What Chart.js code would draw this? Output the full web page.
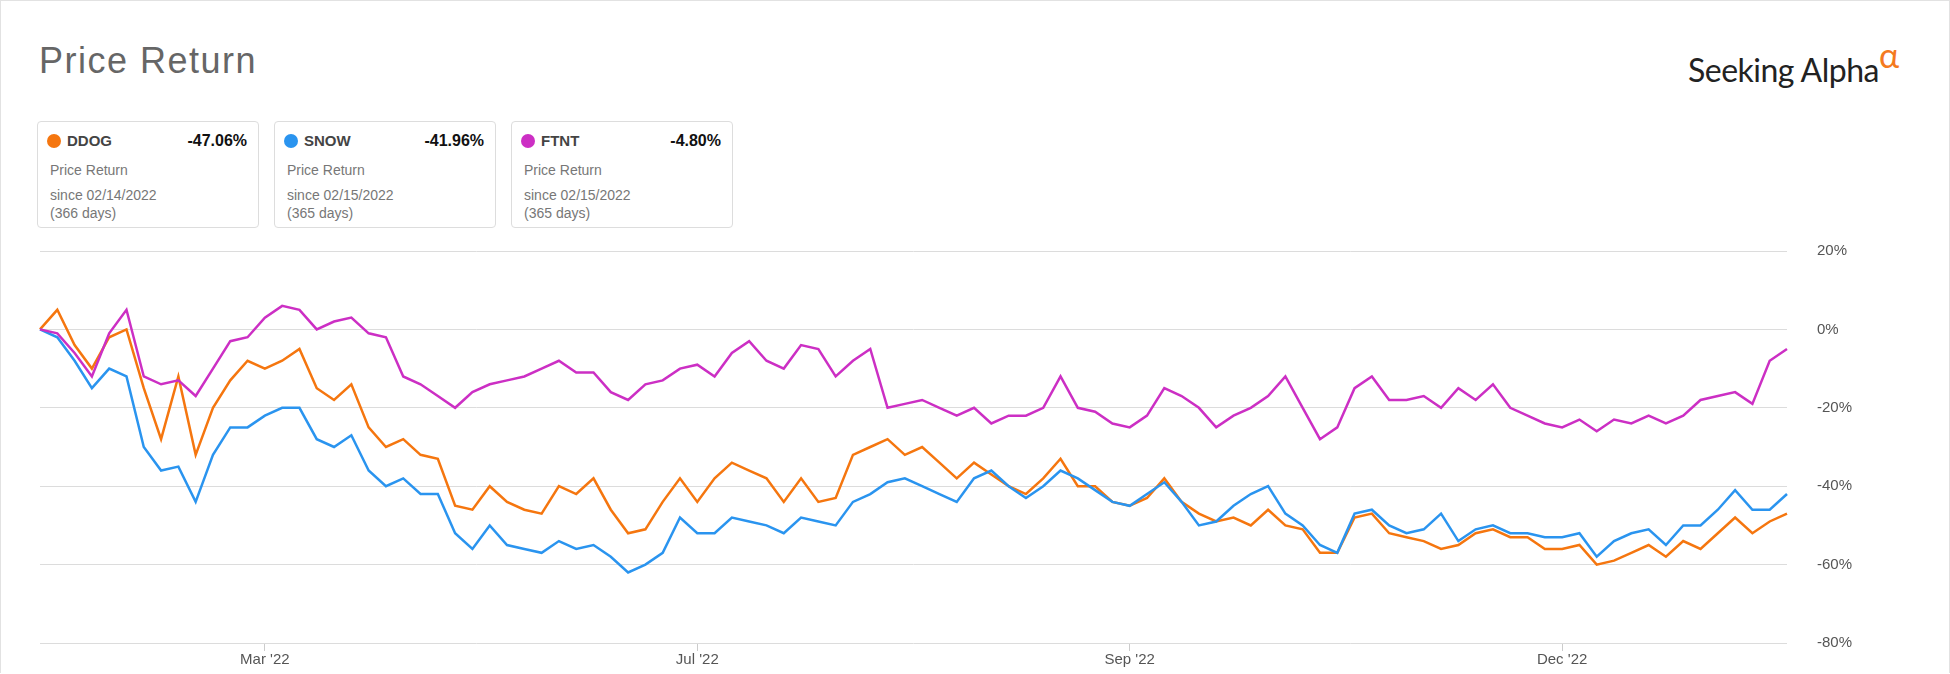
<!DOCTYPE html>
<html><head><meta charset="utf-8">
<script src="https://cdn.jsdelivr.net/npm/chart.js@4"></script>
<style>
body{margin:0;width:1950px;height:674px;background:#fff;font-family:"Liberation Sans",Arial,sans-serif;overflow:hidden;position:relative}
#frame{position:absolute;left:0;top:0;width:1948px;height:672px;border:1px solid #e2e2e2;border-bottom:none}
#title{position:absolute;left:39px;top:40px;font-size:36px;color:#666;letter-spacing:1.5px}
#logo{position:absolute;left:1688px;top:36px;font-family:"Lato","Open Sans",sans-serif;font-size:32px;color:#222;letter-spacing:-0.5px}
#logo sup{color:#f47a20;font-size:34px;position:relative;top:-2px;margin-left:0px}
.box{position:absolute;top:121px;width:222px;height:107px;border:1px solid #ddd;border-radius:4px;box-sizing:border-box}
.dot{position:absolute;left:9px;top:12px;width:14px;height:14px;border-radius:50%}
.tk{position:absolute;left:29px;top:10px;font-size:15px;font-weight:bold;color:#444}
.val{position:absolute;right:11px;top:10px;font-size:16px;font-weight:bold;color:#111}
.l1{position:absolute;left:12px;top:40px;font-size:14px;color:#777}
.l2{position:absolute;left:12px;top:64px;font-size:14px;color:#777;line-height:18px}
#c{position:absolute;left:0;top:0}
</style></head><body>
<div id="frame"></div>
<div id="title">Price Return</div>
<div id="logo">Seeking Alpha<sup>α</sup></div>
<div id="boxes"></div>
<canvas id="c" width="1950" height="682"></canvas>
<script>
const tickers=["DDOG","SNOW","FTNT"];
const returns=["-47.06%","-41.96%","-4.80%"];
const sinceDates=["02/14/2022","02/15/2022","02/15/2022"];
const dayCounts=["366","365","365"];
const colors=["#f5760f","#2a94ef","#cc2fc4"];
const ddog=[0,5,-4,-10,-2,0,-15,-28,-12,-32,-20,-13,-8,-10,-8,-5,-15,-18,-14,-25,-30,-28,-32,-33,-45,-46,-40,-44,-46,-47,-40,-42,-38,-46,-52,-51,-44,-38,-44,-38,-34,-36,-38,-44,-38,-44,-43,-32,-30,-28,-32,-30,-34,-38,-34,-37,-40,-42,-38,-33,-40,-40,-44,-45,-43,-38,-44,-47,-49,-48,-50,-46,-50,-51,-57,-57,-48,-47,-52,-53,-54,-56,-55,-52,-51,-53,-53,-56,-56,-55,-60,-59,-57,-55,-58,-54,-56,-52,-48,-52,-49,-47];
const snow=[0,-2,-8,-15,-10,-12,-30,-36,-35,-44,-32,-25,-25,-22,-20,-20,-28,-30,-27,-36,-40,-38,-42,-42,-52,-56,-50,-55,-56,-57,-54,-56,-55,-58,-62,-60,-57,-48,-52,-52,-48,-49,-50,-52,-48,-49,-50,-44,-42,-39,-38,-40,-42,-44,-38,-36,-40,-43,-40,-36,-38,-41,-44,-45,-42,-39,-44,-50,-49,-45,-42,-40,-47,-50,-55,-57,-47,-46,-50,-52,-51,-47,-54,-51,-50,-52,-52,-53,-53,-52,-58,-54,-52,-51,-55,-50,-50,-46,-41,-46,-46,-42];
const ftnt=[0,-1,-6,-12,-1,5,-12,-14,-13,-17,-10,-3,-2,3,6,5,0,2,3,-1,-2,-12,-14,-17,-20,-16,-14,-13,-12,-10,-8,-11,-11,-16,-18,-14,-13,-10,-9,-12,-6,-3,-8,-10,-4,-5,-12,-8,-5,-20,-19,-18,-20,-22,-20,-24,-22,-22,-20,-12,-20,-21,-24,-25,-22,-15,-17,-20,-25,-22,-20,-17,-12,-20,-28,-25,-15,-12,-18,-18,-17,-20,-15,-18,-14,-20,-22,-24,-25,-23,-26,-23,-24,-22,-24,-22,-18,-17,-16,-19,-8,-5];
const xTickLabels={13:"Mar '22",38:"Jul '22",63:"Sep '22",88:"Dec '22"};
const yTicks=[20,0,-20,-40,-60,-80];

const boxes=document.getElementById('boxes');
tickers.forEach((t,i)=>{
  const d=document.createElement('div');d.className='box';d.style.left=(37+i*237)+'px';
  d.innerHTML=`<div class="dot" style="background:${colors[i]}"></div><div class="tk">${t}</div><div class="val">${returns[i]}</div><div class="l1">Price Return</div><div class="l2">since ${sinceDates[i]}<br>(${dayCounts[i]} days)</div>`;
  boxes.appendChild(d);
});
const labels=ddog.map((_,i)=>i);
const series=[ddog,snow,ftnt];
new Chart(document.getElementById('c'),{
  type:'line',
  data:{labels,datasets:series.map((s,i)=>({label:tickers[i],data:s,borderColor:colors[i],borderWidth:2.5,pointRadius:0,tension:0,order:2-i}))},
  options:{responsive:false,animation:false,
    layout:{padding:{left:40,top:251,right:0,bottom:0}},
    plugins:{legend:{display:false},tooltip:{enabled:false}},
    scales:{
      x:{offset:false,grid:{drawOnChartArea:false,tickLength:8,color:c=>xTickLabels[c.index]!==undefined?'#ccc':'rgba(0,0,0,0)'},border:{display:false},
        ticks:{autoSkip:false,maxRotation:0,padding:0,color:'#555',font:{family:'Liberation Sans',size:15},callback:(v,i)=>xTickLabels[i]||''}},
      y:{position:'right',min:-80,max:20,grid:{color:'#dcdcdc',lineWidth:1,drawTicks:false},border:{display:false},
        afterBuildTicks:a=>{a.ticks=yTicks.map(v=>({value:v}));},
        afterFit:a=>{a.width=163;},
        ticks:{padding:30,color:'#555',font:{family:'Liberation Sans',size:15},callback:v=>v+'%'}}
    }}
});
</script></body></html>
